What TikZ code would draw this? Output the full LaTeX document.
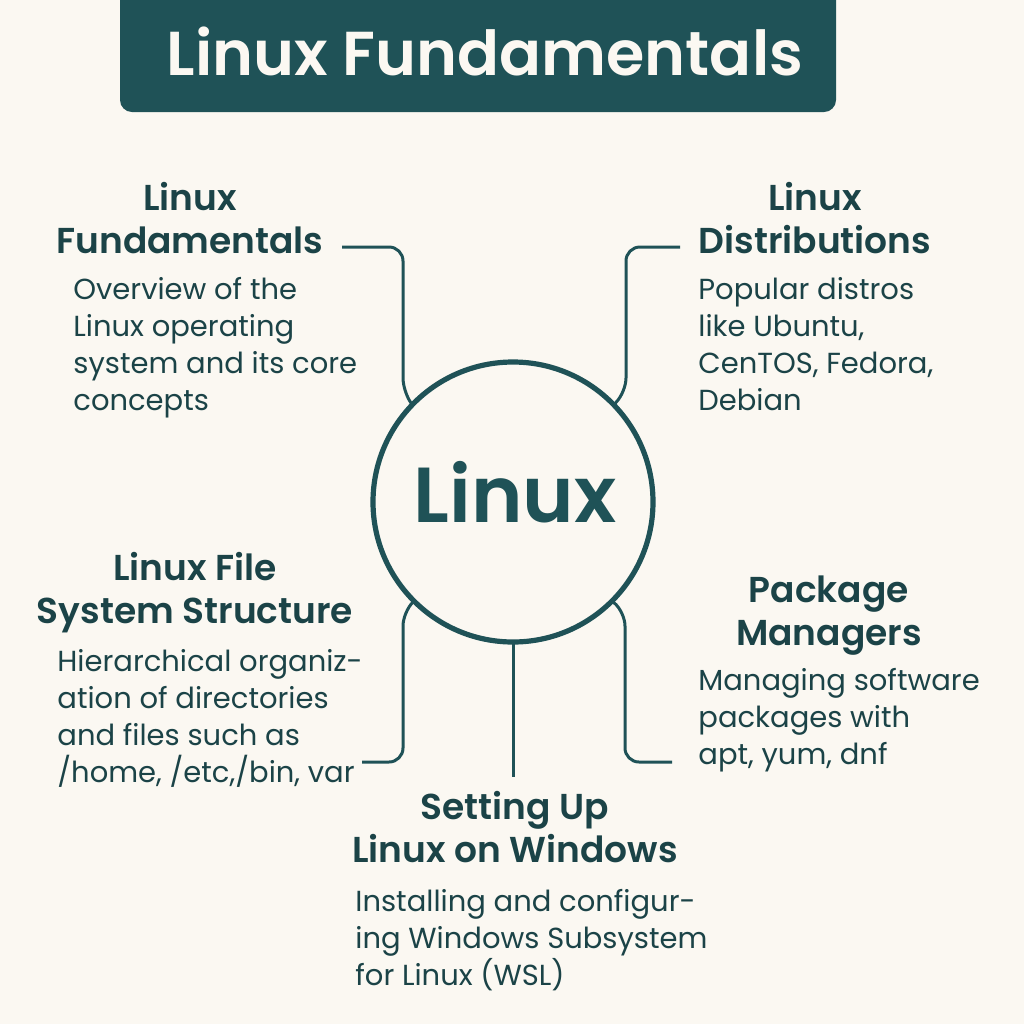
\documentclass[tikz,border=0pt]{standalone}
\usepackage{fontspec}
\setmainfont{Poppins}[BoldFont={Poppins SemiBold}]
\definecolor{teal1}{HTML}{1F5257}
\definecolor{ink}{HTML}{1B4347}
\definecolor{bg}{HTML}{FBF8F2}
\begin{document}
\begin{tikzpicture}[x=0.5pt,y=-0.5pt,
 head/.style={font=\bfseries\fontsize{18}{21.5}\selectfont, text=ink, align=center, inner sep=0, anchor=base},
 desc/.style={font=\fontsize{14.5}{18.5}\selectfont, text=ink, align=left, inner sep=0, anchor=base west},
 link/.style={draw=teal1, line width=1.5pt, rounded corners=7pt},
]
\useasboundingbox (0,0) rectangle (1024,1024);
\fill[bg] (0,0) rectangle (1024,1024);
\fill[teal1, rounded corners=6pt] (120,-30) rectangle (836,112);
\node[font=\bfseries\fontsize{31}{36}\selectfont, text=bg, anchor=base, inner sep=0] (title) at (485,75) {Linux Fundamentals};
\node[circle, draw=teal1, line width=2.6pt, minimum size=140pt, inner sep=0, outer sep=0] (c) at (513,502) {};
\node[font=\bfseries\fontsize{39}{44}\selectfont, text=teal1, anchor=base, inner sep=0] (lx) at (515,522) {Linux};

\node[head] (h1) at (190,253) {Linux\\Fundamentals};
\node[desc] (d1) at (73,410) {Overview of the\\Linux operating\\system and its core\\concepts};
\node[head] (h2) at (815,253) {Linux\\Distributions};
\node[desc] (d2) at (698,410) {Popular distros\\like Ubuntu,\\CenTOS, Fedora,\\Debian};
\node[head] (h3) at (195,623) {Linux File\\System Structure};
\node[desc] (d3) at (57,782) {Hierarchical organiz-\\ation of directories\\and files such as\\/home, /etc,/bin, var};
\node[head] (h4) at (829,645) {Package\\Managers};
\node[desc] (d4) at (698,764) {Managing software\\packages with\\apt, yum, dnf};
\node[head] (h5) at (515,862) {Setting Up\\Linux on Windows};
\node[desc] (d5) at (355,985) {Installing and configur-\\ing Windows Subsystem\\for Linux (WSL)};

\coordinate (e1) at (342,247);
\coordinate (e2) at (680,247);
\coordinate (e3) at (362,762);
\coordinate (e4) at (672,762);
\coordinate (e5) at (513,777);
\draw[link] (e1) -- (403,247) -- (403,392) -- (c.136);
\draw[link] (e2) -- (626,247) -- (626,392) -- (c.44);
\draw[link] (e3) -- (403,762) -- (403,612) -- (c.225);
\draw[link] (e4) -- (625,762) -- (625,612) -- (c.315);
\draw[link] (c.south) -- (e5);
\end{tikzpicture}
\end{document}
